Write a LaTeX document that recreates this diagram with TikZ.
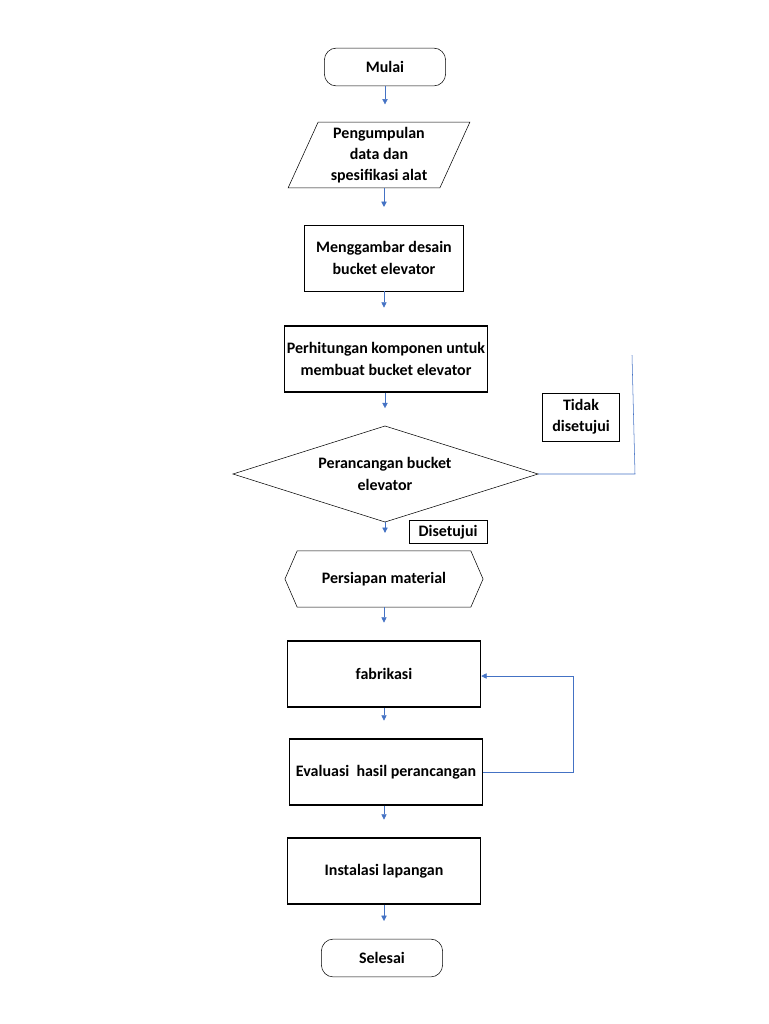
\documentclass[tikz,border=0pt]{standalone}
\usepackage{fontspec}
\setmainfont{Carlito}
\usetikzlibrary{arrows.meta,positioning,shapes.geometric,shapes.symbols}
\definecolor{lineblue}{RGB}{68,114,196}

\begin{document}
\begin{tikzpicture}[
  x=0.0264cm, y=-0.0264cm,
  base/.style={draw, thin, align=center, font=\fontsize{12}{16}\selectfont\bfseries, inner sep=2pt},
  term/.style={base, rounded corners=9pt, minimum width=3.2cm, minimum height=1cm},
  proc/.style={base, minimum width=4.2cm, minimum height=1.74cm},
  thickproc/.style={proc, line width=1pt, minimum width=5.1cm},
  lbl/.style={base, minimum height=0.6cm},
  arr/.style={-{Triangle[length=4pt,width=4pt]}, lineblue, shorten >=0.47cm},
  link/.style={lineblue, thin},
]
\useasboundingbox (0,0) rectangle (768,1024);

\node[term] (start) at (385,67) {Mulai};
\node[base, trapezium, trapezium left angle=64, trapezium right angle=116,
  trapezium stretches body, minimum width=4.8cm, minimum height=1.74cm] (data) at (379,155)
  {Pengumpulan\\data dan\\spesifikasi alat};
\node[proc] (draw) at (384,258) {Menggambar desain\\bucket elevator};
\node[thickproc] (calc) at (386,359) {Perhitungan komponen untuk\\membuat bucket elevator};
% decision drawn as a plain polygon
\coordinate (dtop) at (385,426);
\coordinate (dbot) at (385,522);
\coordinate (dleft) at (233,474);
\coordinate (dright) at (538,474);
\draw[thin] (dtop) -- (dright) -- (dbot) -- (dleft) -- cycle;
\node[base, draw=none] (design) at (385,474) {Perancangan bucket\\elevator};
\node[base, signal, signal to=west and east, signal pointer angle=133,
  minimum width=5.23cm, minimum height=1.48cm] (prep) at (384,579) {Persiapan material};
\node[thickproc] (fab) at (384,674) {fabrikasi};
\node[thickproc] (eval) at (386,772) {Evaluasi~ hasil perancangan};
\node[thickproc] (inst) at (384,871) {Instalasi lapangan};
\node[term] (end) at (382,958) {Selesai};

\node[lbl, minimum width=2.05cm] (ok) at (448,532) {Disetujui};
\node[lbl, minimum width=2.03cm, minimum height=1.27cm] (no) at (581,417) {Tidak\\disetujui};

\draw[arr] (start.south) -- ++(0,36);
\draw[arr] (data.south -| draw.north) -- (draw.north);
\draw[arr] (draw.south) -- (calc.north -| draw.south);
\draw[arr] (calc.south -| dtop) -- (dtop);
\draw[arr] (dbot) -- (prep.north -| dbot);
\draw[arr] (prep.south) -- (fab.north);
\draw[arr] (fab.south) -- (eval.north -| fab.south);
\draw[arr] (eval.south -| inst.north) -- (inst.north);
\draw[arr] (inst.south) -- (end.north -| inst.south);

% rejected design goes back up
\coordinate (back) at (632,355);
\draw[link] (dright) -- (635,474) -- (back);
% evaluation loops back to fabrication
\draw[link, -{Triangle[length=4pt,width=4pt]}] (eval.east) -- (573,772) -- (573,676) -- (fab.east |- 0,676);
\end{tikzpicture}
\end{document}
